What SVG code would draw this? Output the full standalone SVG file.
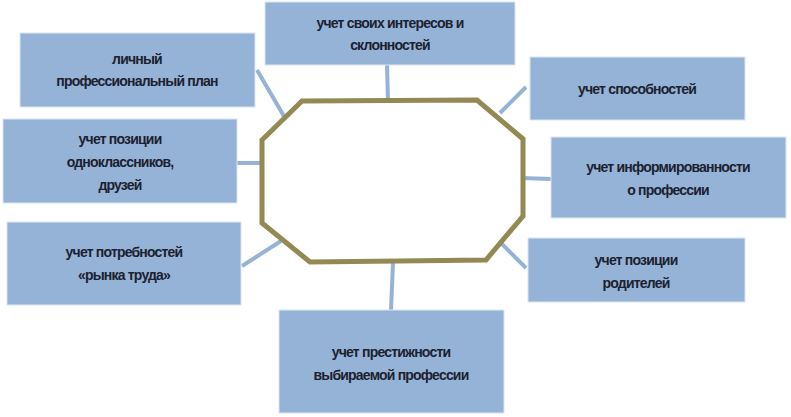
<svg xmlns="http://www.w3.org/2000/svg" width="791" height="417" viewBox="0 0 791 417">
<style>
.b{fill:#95b3d7;stroke:#dbe5f1;stroke-width:1}
.t{font-family:"Liberation Sans",Arial,sans-serif;font-weight:bold;font-size:14px;fill:#1c2130;text-anchor:middle;letter-spacing:-0.8px}
.c line{stroke:#95b3d7;stroke-width:4}
</style>
<rect width="791" height="417" fill="#fff"/>
<g class="c" id="connectors">
<line x1="257" y1="70" x2="285" y2="118"/>
<line x1="387" y1="65" x2="388" y2="101"/>
<line x1="500" y1="113" x2="526" y2="87"/>
<line x1="521" y1="178" x2="551" y2="179"/>
<line x1="500" y1="242" x2="526" y2="268"/>
<line x1="393" y1="263" x2="391" y2="310"/>
<line x1="242" y1="266" x2="281" y2="241"/>
<line x1="237" y1="163" x2="260" y2="163"/>
</g>
<g id="center"><polygon points="302,101 477,100 523,139 523,216 486,260 310,262 262,223 262,140" fill="#fff" stroke="#938953" stroke-width="5"/></g>
<g id="n1"><rect class="b" x="20" y="33" width="235" height="74"/><text class="t" x="137" y="64">личный</text><text class="t" x="137" y="86">профессиональный план</text></g>
<g id="n2"><rect class="b" x="265" y="2" width="250" height="63"/><text class="t" x="390" y="28">учет своих интересов и</text><text class="t" x="390" y="50">склонностей</text></g>
<g id="n3"><rect class="b" x="530" y="57" width="215" height="63"/><text class="t" x="637" y="94">учет способностей</text></g>
<g id="n4"><rect class="b" x="551" y="137" width="235" height="81"/><text class="t" x="668" y="172">учет информированности</text><text class="t" x="668" y="195">о профессии</text></g>
<g id="n5"><rect class="b" x="528" y="238" width="217" height="64"/><text class="t" x="636" y="265">учет позиции</text><text class="t" x="636" y="288">родителей</text></g>
<g id="n6"><rect class="b" x="279" y="310" width="225" height="103"/><text class="t" x="391" y="357">учет престижности</text><text class="t" x="391" y="380">выбираемой профессии</text></g>
<g id="n7"><rect class="b" x="7" y="222" width="234" height="83"/><text class="t" x="124" y="257">учет потребностей</text><text class="t" x="124" y="280">«рынка труда»</text></g>
<g id="n8"><rect class="b" x="3" y="119" width="234" height="84"/><text class="t" x="120" y="144">учет позиции</text><text class="t" x="120" y="167">одноклассников,</text><text class="t" x="120" y="190">друзей</text></g>
</svg>
